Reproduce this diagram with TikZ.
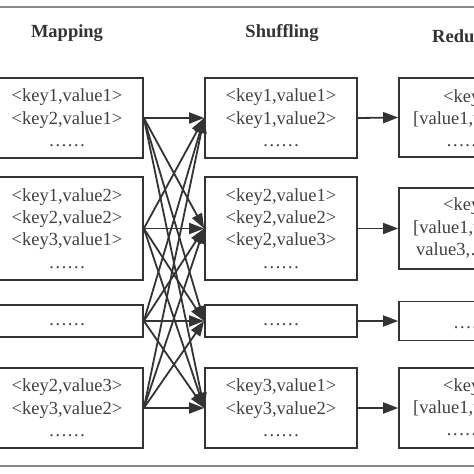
\documentclass[tikz,border=0pt]{standalone}
\usepackage{fontspec}
\setmainfont{Liberation Serif}
\usetikzlibrary{arrows.meta}
\definecolor{boxc}{HTML}{333333}
\definecolor{txtc}{HTML}{404040}
\definecolor{rulec}{HTML}{8A8A8A}
\begin{document}
\begin{tikzpicture}[x=1pt,y=-1pt,
  box/.style={draw=boxc, line width=1.7pt, minimum width=152pt, inner sep=0pt,
    align=center, text=txtc, font=\fontsize{18.5}{22.3}\selectfont},
  ttl/.style={font=\fontsize{18.5}{22}\selectfont\bfseries, text=boxc, inner sep=0pt},
  rtxt/.style={anchor=base west, inner sep=0pt, text=txtc, font=\fontsize{18.5}{22.3}\selectfont},
  arr/.style={draw=boxc, line width=1.8pt, -{Triangle[length=15pt,width=11pt]}}]
\useasboundingbox (0,0) rectangle (474,474);
\clip (0,0) rectangle (474,474);
\fill[white] (0,0) rectangle (474,474);
% rules
\coordinate (tl) at (0,7); \coordinate (tr) at (474,7);
\coordinate (bl) at (0,466); \coordinate (br) at (474,466);
\draw[rulec, line width=1.3pt] (tl) -- (tr);
\draw[rulec, line width=1.3pt] (bl) -- (br);
% titles
\node[ttl] (tmap) at (67,33) {Mapping};
\node[ttl] (tshuf) at (282,33) {Shuffling};
\node[ttl, anchor=west] (tred) at (432,38) {Reducing};
% mapping
\node[box, minimum height=80pt] (m1) at (67,118) {<key1,value1>\\<key2,value1>\\……};
\node[box, minimum height=103pt] (m2) at (67,228.5) {<key1,value2>\\<key2,value2>\\<key3,value1>\\……};
\node[box, minimum height=32pt, text height=12pt, text depth=4pt] (m3) at (67,321) {……};
\node[box, minimum height=80pt] (m4) at (67,408) {<key2,value3>\\<key3,value2>\\……};
% shuffling
\node[box, minimum height=80pt] (s1) at (281,118) {<key1,value1>\\<key1,value2>\\……};
\node[box, minimum height=103pt] (s2) at (281,228.5) {<key2,value1>\\<key2,value2>\\<key2,value3>\\……};
\node[box, minimum height=32pt, text height=12pt, text depth=4pt] (s3) at (281,321) {……};
\node[box, minimum height=80pt] (s4) at (281,408) {<key3,value1>\\<key3,value2>\\……};
% reducing
\node[box, minimum height=79pt] (r1) at (475,117.5) {};
\node[box, minimum height=81pt] (r2) at (475,228.5) {};
\node[box, minimum height=39pt] (r3) at (475,321) {};
\node[box, minimum height=80pt] (r4) at (475,408) {};
\node[rtxt] (r1a) at (443,102) {<key1,};
\node[rtxt] (r1b) at (413,124) {[value1,value2]>};
\node[rtxt] (r1c) at (446,146) {……};
\node[rtxt] (r2a) at (443,210.5) {<key2,};
\node[rtxt] (r2b) at (413,233) {[value1,value2,};
\node[rtxt] (r2c) at (416,255.5) {value3,……]>};
\node[rtxt] (r3a) at (453,328) {……};
\node[rtxt] (r4a) at (443,391.5) {<key3,};
\node[rtxt] (r4b) at (413,413) {[value1,value2]>};
\node[rtxt] (r4c) at (446,435) {……};
% arrows
\foreach \i in {1,...,4}{
  \foreach \j in {1,...,4}{
    \draw[arr] (m\i.east) -- (s\j.west);
  }
  \draw[arr] (s\i.east) -- (r\i.west);
}
\end{tikzpicture}
\end{document}
